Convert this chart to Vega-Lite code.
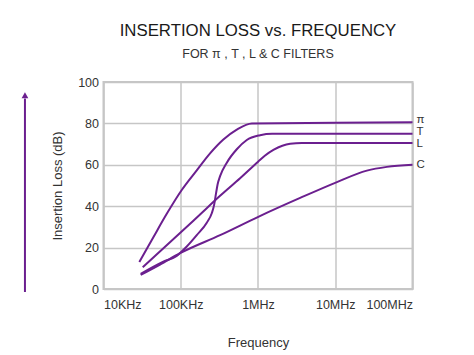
{
  "$schema": "https://vega.github.io/schema/vega-lite/v6.json",
  "width": 309,
  "height": 207,
  "autosize": {"type": "none"},
  "padding": {"left": 103.5, "top": 82, "right": 61.5, "bottom": 66},
  "background": "white",
  "title": {
    "text": "INSERTION LOSS vs. FREQUENCY",
    "subtitle": "FOR π , T , L & C FILTERS",
    "anchor": "middle",
    "frame": "group",
    "font": "Liberation Sans",
    "subtitleFont": "Liberation Sans",
    "fontSize": 16.8,
    "subtitleFontSize": 12.5,
    "fontWeight": "normal",
    "color": "#1a1a1a",
    "subtitleColor": "#333333",
    "offset": 15.5,
    "subtitlePadding": 8
  },
  "datasets": {
    "curves": [
      {"series": "π", "freq": 29100, "loss": 13},
      {"series": "π", "freq": 44200, "loss": 25},
      {"series": "π", "freq": 65900, "loss": 36.3},
      {"series": "π", "freq": 103000, "loss": 47.8},
      {"series": "π", "freq": 161200, "loss": 57.3},
      {"series": "π", "freq": 239600, "loss": 65.5},
      {"series": "π", "freq": 356300, "loss": 72.2},
      {"series": "π", "freq": 531400, "loss": 77},
      {"series": "π", "freq": 831000, "loss": 80},
      {"series": "π", "freq": 10000000, "loss": 80.3},
      {"series": "π", "freq": 100000000, "loss": 80.5},
      {"series": "T", "freq": 30300, "loss": 7.3},
      {"series": "T", "freq": 59500, "loss": 13.2},
      {"series": "T", "freq": 88770, "loss": 16},
      {"series": "T", "freq": 119600, "loss": 20.5},
      {"series": "T", "freq": 161200, "loss": 26},
      {"series": "T", "freq": 217200, "loss": 32},
      {"series": "T", "freq": 252100, "loss": 36.6},
      {"series": "T", "freq": 270000, "loss": 40.5},
      {"series": "T", "freq": 286600, "loss": 46.3},
      {"series": "T", "freq": 299700, "loss": 50.5},
      {"series": "T", "freq": 322900, "loss": 54.5},
      {"series": "T", "freq": 394500, "loss": 61},
      {"series": "T", "freq": 531400, "loss": 67.5},
      {"series": "T", "freq": 716000, "loss": 72},
      {"series": "T", "freq": 1064000, "loss": 74.3},
      {"series": "T", "freq": 1523000, "loss": 75},
      {"series": "T", "freq": 100000000, "loss": 75},
      {"series": "L", "freq": 32190, "loss": 10.5},
      {"series": "L", "freq": 97900, "loss": 27},
      {"series": "L", "freq": 177800, "loss": 36},
      {"series": "L", "freq": 322900, "loss": 45},
      {"series": "L", "freq": 586300, "loss": 53.5},
      {"series": "L", "freq": 1003000, "loss": 61.5},
      {"series": "L", "freq": 1236000, "loss": 64.5},
      {"series": "L", "freq": 1583000, "loss": 67.2},
      {"series": "L", "freq": 2605000, "loss": 70.2},
      {"series": "L", "freq": 3694000, "loss": 70.5},
      {"series": "L", "freq": 100000000, "loss": 70.5},
      {"series": "C", "freq": 30300, "loss": 6.8},
      {"series": "C", "freq": 53950, "loss": 11.8},
      {"series": "C", "freq": 97900, "loss": 17.3},
      {"series": "C", "freq": 322900, "loss": 26},
      {"series": "C", "freq": 1024000, "loss": 35},
      {"series": "C", "freq": 3511000, "loss": 44},
      {"series": "C", "freq": 9970000, "loss": 51.3},
      {"series": "C", "freq": 25660000, "loss": 57.2},
      {"series": "C", "freq": 46600000, "loss": 59},
      {"series": "C", "freq": 100000000, "loss": 60}
    ],
    "labels": [
      {"series": "π", "freq": 100000000, "loss": 81.8},
      {"series": "T", "freq": 100000000, "loss": 75.8},
      {"series": "L", "freq": 100000000, "loss": 70.2},
      {"series": "C", "freq": 100000000, "loss": 60}
    ],
    "arrow": [
      {"freq": 962, "loss": -1.45, "loss2": 92}
    ],
    "arrowhead": [
      {"freq": 962, "loss": 93.6}
    ]
  },
  "layer": [
    {
      "data": {"name": "curves"},
      "mark": {"type": "line", "interpolate": "monotone", "color": "#6b1f8f", "strokeWidth": 2},
      "encoding": {
        "x": {
          "field": "freq", "type": "quantitative",
          "scale": {"type": "log", "domain": [10000, 100000000], "nice": false},
          "axis": {
            "values": [10000, 100000, 1000000, 10000000, 100000000],
            "labelExpr": "datum.value == 10000 ? '10KHz' : datum.value == 100000 ? '100KHz' : datum.value == 1000000 ? '1MHz' : datum.value == 10000000 ? '10MHz' : '100MHz'",
            "title": "Frequency",
            "titlePadding": 26,
            "labelPadding": 9
          }
        },
        "y": {
          "field": "loss", "type": "quantitative",
          "scale": {"domain": [0, 100], "nice": false},
          "axis": {
            "values": [0, 20, 40, 60, 80, 100],
            "title": "Insertion Loss (dB)",
            "titlePadding": 13,
            "labelPadding": 5
          }
        },
        "detail": {"field": "series"}
      }
    },
    {
      "data": {"name": "labels"},
      "mark": {"type": "text", "align": "left", "baseline": "middle", "dx": 4, "font": "Liberation Sans", "fontSize": 11.5, "color": "#333333"},
      "encoding": {
        "x": {"field": "freq", "type": "quantitative"},
        "y": {"field": "loss", "type": "quantitative"},
        "text": {"field": "series"}
      }
    },
    {
      "data": {"name": "arrow"},
      "mark": {"type": "rule", "color": "#6b1f8f", "strokeWidth": 2},
      "encoding": {
        "x": {"field": "freq", "type": "quantitative"},
        "y": {"field": "loss", "type": "quantitative"},
        "y2": {"field": "loss2"}
      }
    },
    {
      "data": {"name": "arrowhead"},
      "mark": {"type": "point", "shape": "triangle-up", "filled": true, "color": "#6b1f8f", "size": 45, "opacity": 1},
      "encoding": {
        "x": {"field": "freq", "type": "quantitative"},
        "y": {"field": "loss", "type": "quantitative"}
      }
    }
  ],
  "config": {
    "view": {"stroke": "#c6c6c6", "strokeWidth": 2},
    "axis": {
      "domain": false,
      "ticks": false,
      "grid": true,
      "gridColor": "#c6c6c6",
      "gridWidth": 1.5,
      "labelFont": "Liberation Sans",
      "labelFontSize": 12.5,
      "labelColor": "#333333",
      "titleFont": "Liberation Sans",
      "titleFontSize": 13,
      "titleFontWeight": "normal",
      "titleColor": "#333333"
    }
  }
}
